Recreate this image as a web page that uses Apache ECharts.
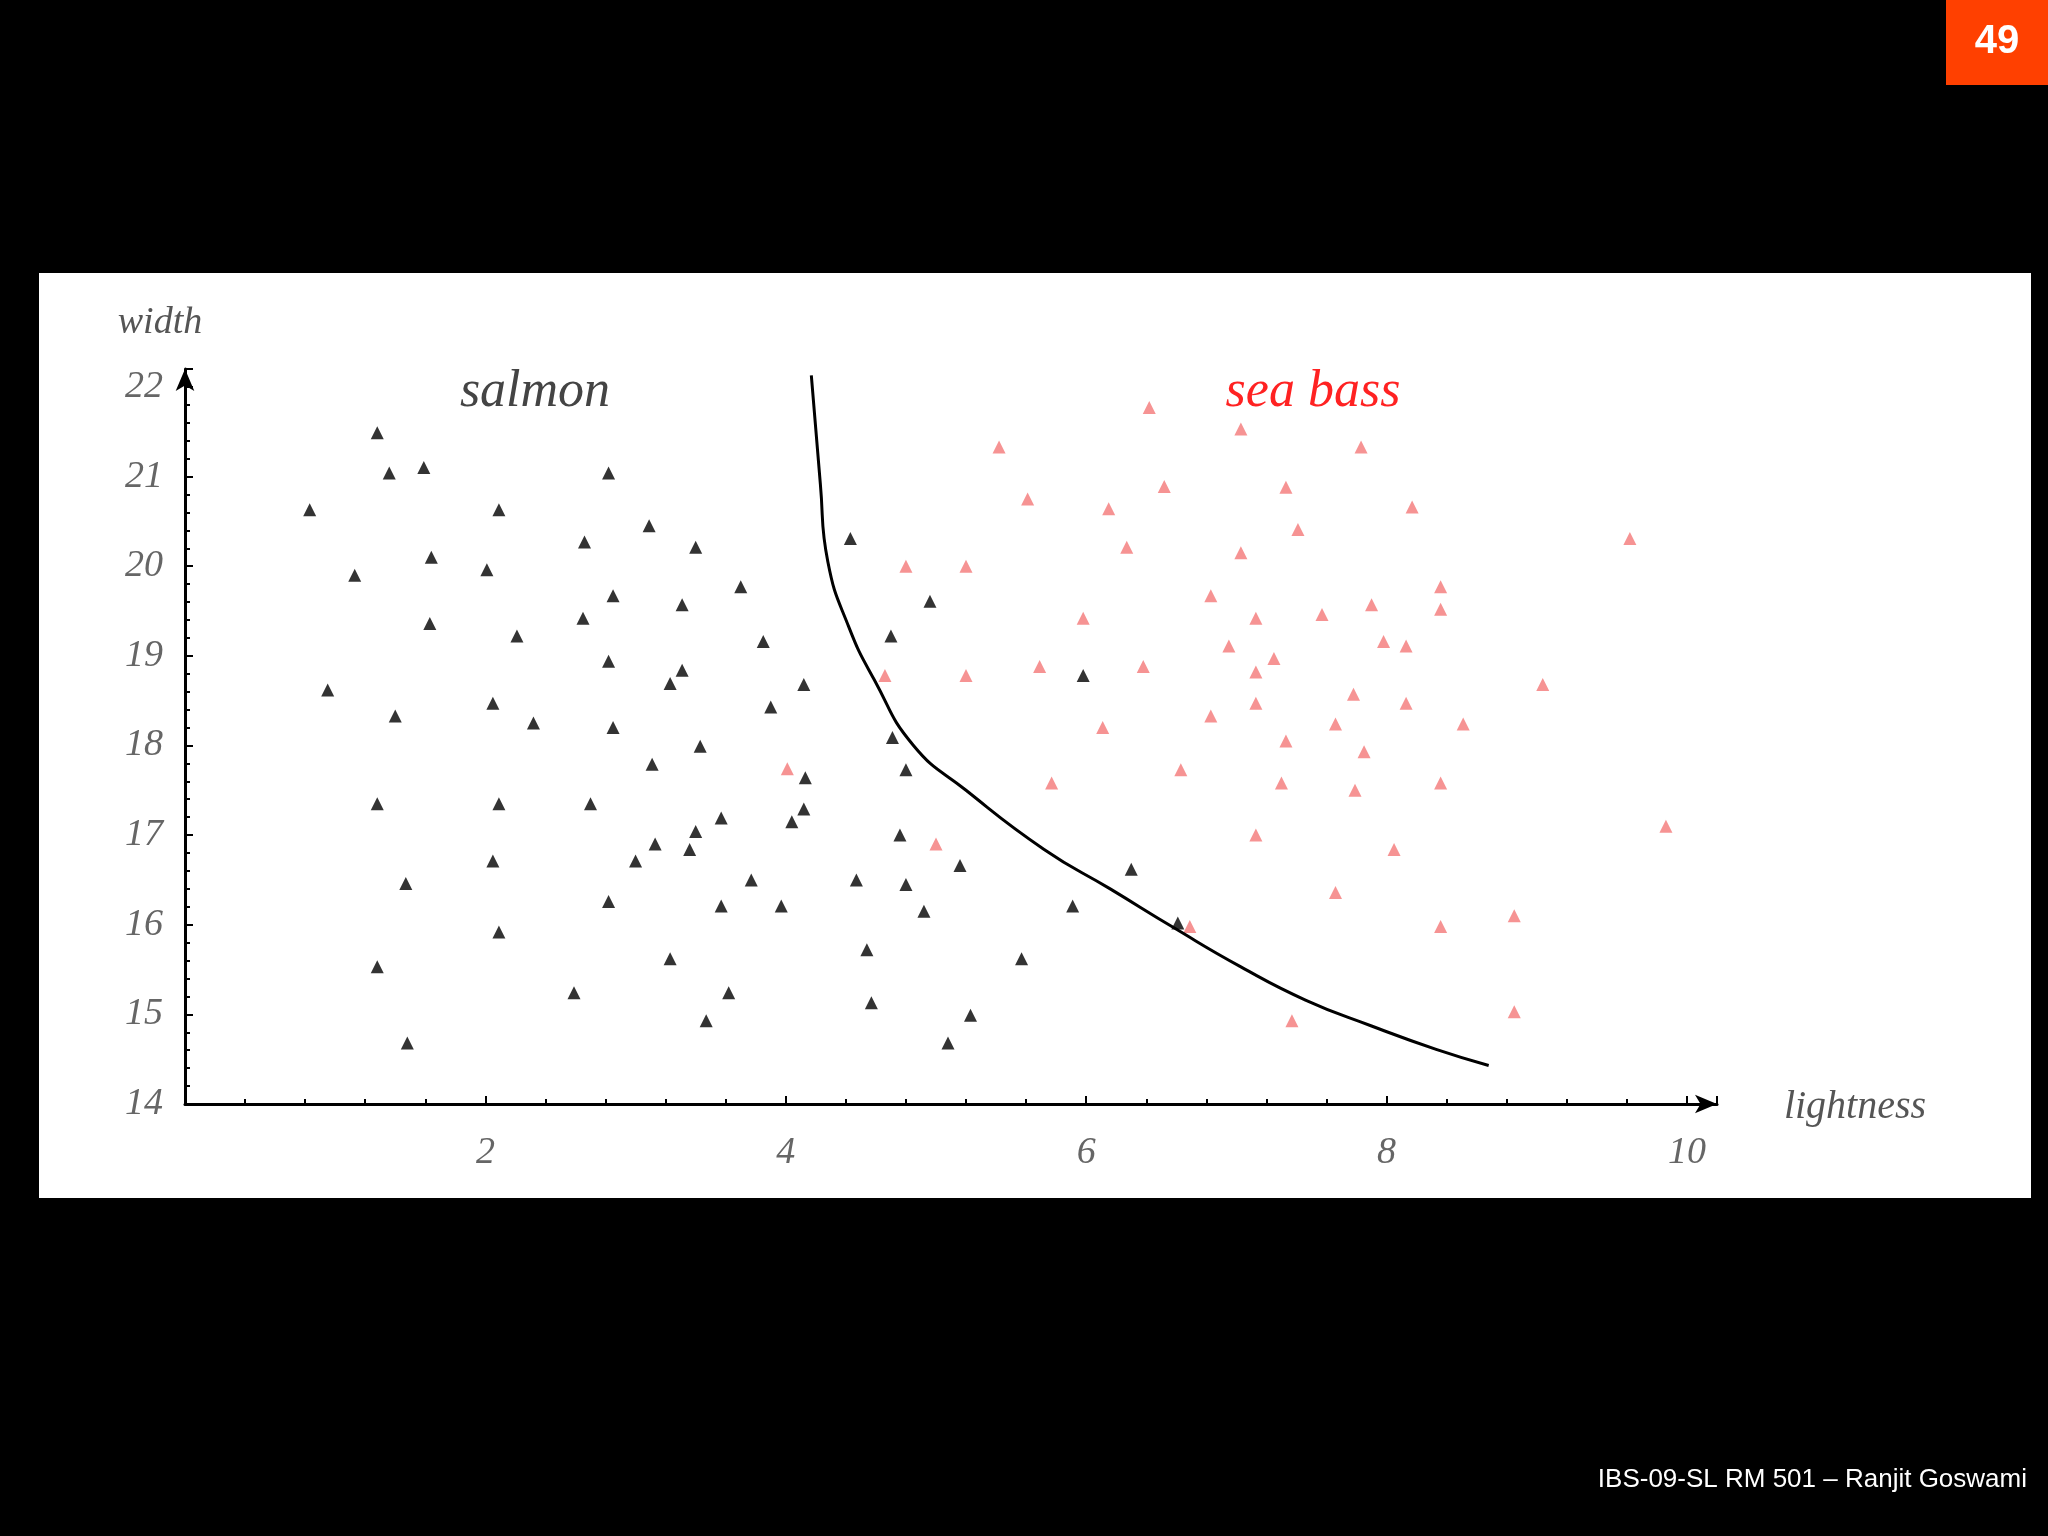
<!DOCTYPE html>
<html><head><meta charset="utf-8">
<script src="https://cdn.jsdelivr.net/npm/echarts@6/dist/echarts.min.js"></script>
<style>html,body{margin:0;background:#000}#c{width:2048px;height:1536px}</style>
</head><body><div id="c"></div>
<script>
var salmon = [
  [1.28,21.49],[1.36,21.04],[1.59,21.10],[0.83,20.63],[1.13,19.90],[1.64,20.10],[1.63,19.36],
  [2.09,20.63],[2.01,19.96],[2.21,19.22],[0.95,18.62],[1.40,18.33],[2.05,18.47],[2.32,18.25],
  [2.82,21.04],[2.66,20.27],[3.09,20.45],[3.40,20.21],[2.85,19.67],[2.65,19.42],[3.31,19.57],
  [3.70,19.77],[2.82,18.94],[3.31,18.84],[3.23,18.69],[3.85,19.16],[4.12,18.68],[3.90,18.43],
  [2.85,18.20],[3.43,17.99],[3.11,17.79],[1.28,17.35],[2.09,17.35],[2.70,17.35],[4.13,17.64],
  [4.12,17.29],[4.04,17.15],[3.57,17.19],[3.40,17.04],[3.13,16.90],[3.36,16.84],[3.00,16.71],
  [2.05,16.71],[1.47,16.46],[2.09,15.92],[1.28,15.53],[2.82,16.26],[3.57,16.21],[3.97,16.21],
  [3.77,16.50],[3.23,15.62],[2.59,15.24],[3.62,15.24],[3.47,14.93],[1.48,14.68],[4.43,20.31],
  [4.96,19.61],[4.70,19.22],[4.71,18.09],[4.80,17.73],[4.76,17.00],[4.47,16.50],[4.80,16.45],
  [5.16,16.66],[4.92,16.15],[4.54,15.72],[4.57,15.13],[5.23,14.99],[5.08,14.68],[5.98,18.78],
  [5.57,15.62],[5.91,16.21],[6.30,16.62],[6.61,16.02]
];
var seaBass = [
  [6.42,21.77],[7.03,21.53],[5.42,21.33],[7.83,21.33],[5.61,20.75],[6.15,20.64],[6.52,20.89],
  [7.33,20.88],[8.17,20.66],[7.41,20.41],[6.27,20.21],[7.03,20.15],[4.80,20.00],[5.20,20.00],
  [9.62,20.31],[6.83,19.67],[5.98,19.42],[7.13,19.42],[7.57,19.46],[7.90,19.57],[8.36,19.77],
  [8.36,19.52],[6.95,19.11],[7.25,18.97],[7.98,19.16],[8.13,19.11],[7.13,18.82],[6.38,18.88],
  [5.69,18.88],[5.20,18.78],[4.66,18.78],[9.04,18.68],[7.78,18.57],[7.13,18.47],[8.13,18.47],
  [6.83,18.33],[6.11,18.20],[7.66,18.24],[8.51,18.24],[7.33,18.05],[7.85,17.93],[4.01,17.74],
  [6.63,17.73],[5.77,17.58],[7.30,17.58],[7.79,17.50],[8.36,17.58],[7.13,17.00],[9.86,17.10],
  [5.00,16.90],[8.05,16.84],[7.66,16.36],[6.69,15.98],[8.36,15.98],[8.85,16.10],[7.37,14.93],
  [8.85,15.03]
];
var boundary = [
  [4.17,22.13],[4.23,20.92],[4.28,20.05],[4.42,19.32],[4.59,18.73],[4.85,18.0],[5.2,17.5],
  [5.72,16.84],[6.16,16.4],[6.59,15.96],[7.03,15.53],[7.46,15.16],[7.9,14.87],[8.33,14.61],[8.68,14.43]
];
var serif = '"Liberation Serif", "DejaVu Serif", serif';
var chart = echarts.init(document.getElementById('c'));
var axisCommon = {
  axisLine: { lineStyle: { color: '#000', width: 3 }, symbol: ['none', 'arrow'], symbolSize: [14, 22] },
  axisTick: { inside: true, length: 8, lineStyle: { color: '#000', width: 2 } },
  minorTick: { show: true, splitNumber: 5, length: 5, lineStyle: { color: '#000', width: 2 } },
  splitLine: { show: false },
  axisLabel: { fontFamily: serif, fontStyle: 'italic', fontSize: 38, color: '#666' }
};
chart.setOption({
  backgroundColor: '#000',
  animation: false,
  graphic: [
    { type: 'rect', z: -10, shape: { x: 39, y: 273, width: 1992, height: 925 }, style: { fill: '#fff' } },
    { type: 'rect', shape: { x: 1946, y: 0, width: 102, height: 85 }, style: { fill: '#ff4000' } },
    { type: 'text', x: 1997, y: 42, style: { text: '49', fill: '#fff', font: 'bold 40px Arial, "Liberation Sans"', textAlign: 'center', textVerticalAlign: 'middle' } },
    { type: 'text', x: 2027, y: 1480, style: { text: 'IBS-09-SL RM 501 – Ranjit Goswami', fill: '#fff', font: '26px "Liberation Sans", Arial', textAlign: 'right', textVerticalAlign: 'middle' } },
    { type: 'text', x: 160, y: 323, style: { text: 'width', fill: '#555', font: 'italic 38px ' + serif, textAlign: 'center', textVerticalAlign: 'middle' } },
    { type: 'text', x: 1855, y: 1107, style: { text: 'lightness', fill: '#555', font: 'italic 40px ' + serif, textAlign: 'center', textVerticalAlign: 'middle' } },
    { type: 'text', x: 535, y: 392, style: { text: 'salmon', fill: '#444', font: 'italic 52px ' + serif, textAlign: 'center', textVerticalAlign: 'middle' } },
    { type: 'text', x: 1313, y: 392, style: { text: 'sea bass', fill: '#f22', font: 'italic 52px ' + serif, textAlign: 'center', textVerticalAlign: 'middle' } }
  ],
  grid: { left: 185, right: 331, top: 369, bottom: 432 },
  xAxis: Object.assign({}, axisCommon, {
    type: 'value', min: 0, max: 10.2, interval: 2,
    axisLabel: Object.assign({}, axisCommon.axisLabel, { margin: 30, formatter: function (v) { return v === 0 ? '' : v; } })
  }),
  yAxis: Object.assign({}, axisCommon, {
    type: 'value', min: 14, max: 22.2, interval: 1,
    axisLabel: Object.assign({}, axisCommon.axisLabel, { margin: 22, formatter: function (v) { return v > 22 ? '' : v; } })
  }),
  series: [
    { type: 'scatter', name: 'salmon', data: salmon, symbol: 'triangle', symbolSize: 13, itemStyle: { color: '#000' } },
    { type: 'scatter', name: 'sea bass', data: seaBass, symbol: 'triangle', symbolSize: 13, itemStyle: { color: '#f47878' } },
    { type: 'line', data: boundary, smooth: true, showSymbol: false, lineStyle: { color: '#000', width: 3 } }
  ]
});
</script></body></html>
